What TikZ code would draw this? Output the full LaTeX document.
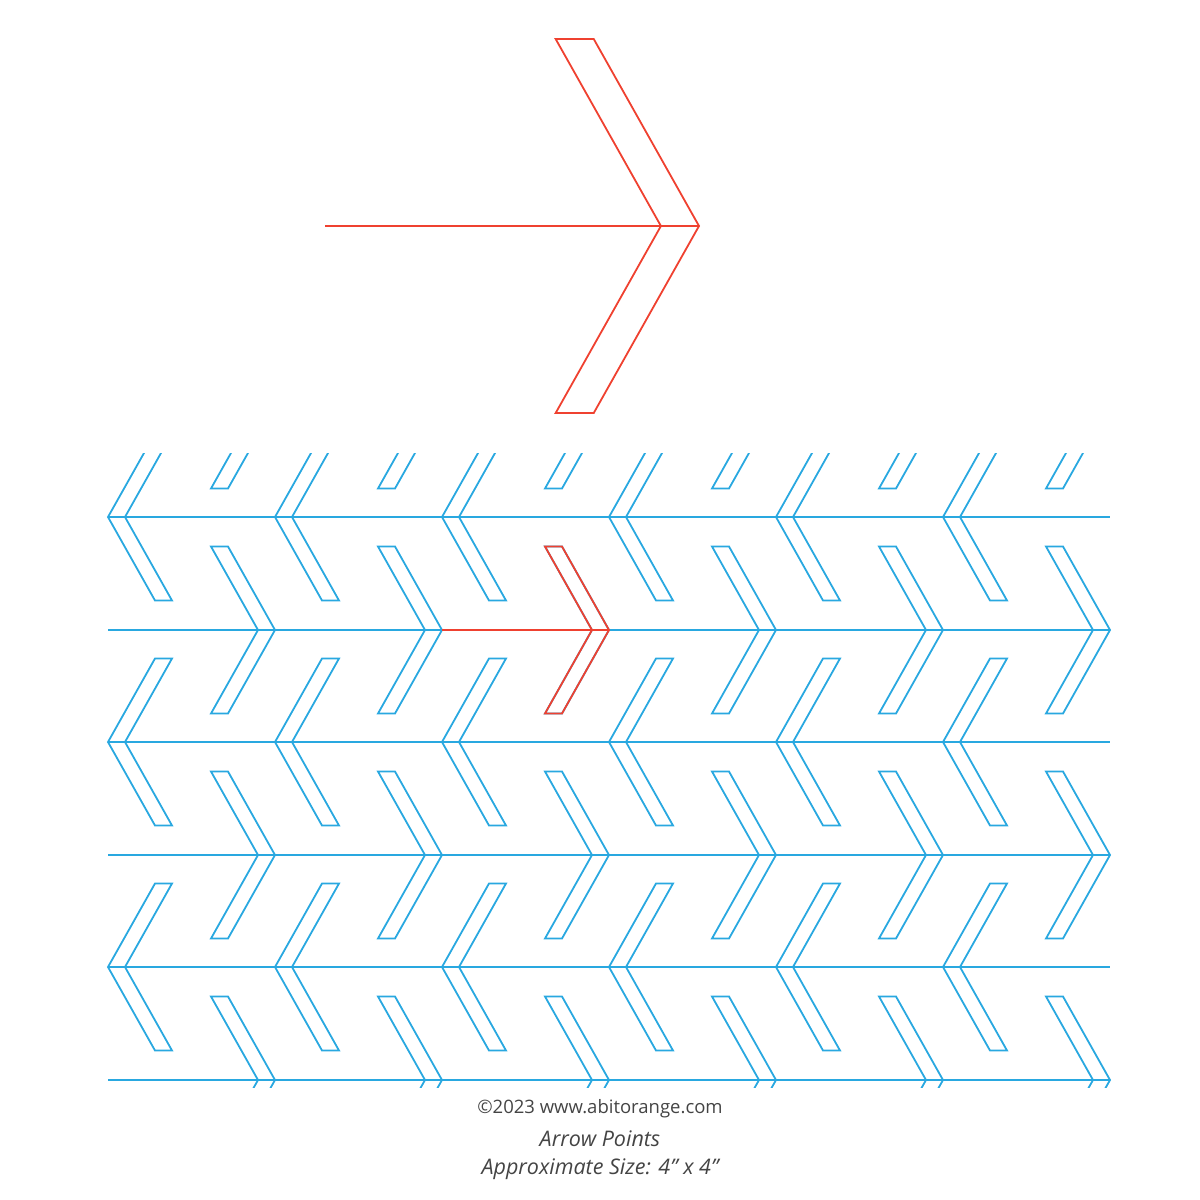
\documentclass[tikz,border=0pt]{standalone}
\usepackage{fontspec}
\setmainfont{Open Sans}
\usepackage{xcolor}
\usepackage{tikz}
\usetikzlibrary{positioning}
\definecolor{arrowblue}{HTML}{29A8E0}
\definecolor{arrowred}{HTML}{EF4130}
\definecolor{textgrey}{HTML}{444444}
\tikzset{
  chev/.pic={\draw (-64,-83.5) -- (-17,0) -- (-64,83.5) -- (-47,83.5) -- (0,0) -- (-47,-83.5) -- cycle;},
  creditline/.style={text=textgrey, font=\fontsize{18.5}{20}\selectfont},
  titleline/.style={text=textgrey, font=\fontsize{21.5}{24}\selectfont\itshape}
}
\begin{document}
\begin{tikzpicture}[x=1pt, y=-1pt, line width=1.8pt]
    \useasboundingbox (0,0) rectangle (1200,1200);

    % the big arrow
    \begin{scope}[arrowred]
        \draw (325,226) -- (699,226);
        \pic[scale=2.24] at (699,226) {chev};
    \end{scope}

    % the pattern
    \begin{scope}[arrowblue]
        \clip (100,453) rectangle (1120,1087);
        \foreach \y in {517,630,742,855,967,1080}
            \draw (108,\y) -- (1110,\y);
        \foreach \y in {517,742,967}
            \foreach \c in {0,...,5}
                \pic[xscale=-1] at ({108+167*\c},\y) {chev};
        \foreach \y in {405,630,855,1080}
            \foreach \c in {0,...,5}
                \pic at ({275+167*\c},\y) {chev};
    \end{scope}

    % one arrow picked out
    \begin{scope}[arrowred]
        \draw (442,630) -- (609,630);
        \pic at (609,630) {chev};
    \end{scope}

    \node[creditline, anchor=base] (credit) at (600,1113) {©2023 www.abitorange.com};
    \node[titleline, anchor=base] (title) at (600,1146) {Arrow Points};
    \node[titleline, anchor=base] (size) at (600,1174) {Approximate Size: 4” x 4”};
\end{tikzpicture}
\end{document}
